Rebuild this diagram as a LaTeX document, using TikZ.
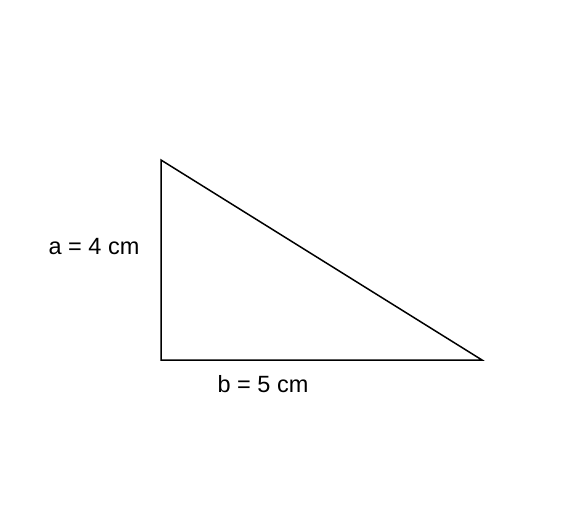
\documentclass[tikz,border=0pt]{standalone}
\usepackage{fontspec}
\setmainfont{Liberation Sans}
\begin{document}
\begin{tikzpicture}[x=1pt,y=-1pt,
  edge/.style={draw=black,line width=1.5pt,line join=miter},
  lbl/.style={font=\fontsize{23.5}{27}\selectfont,inner sep=0pt,anchor=center}]
\useasboundingbox[fill=white] (0,0) rectangle (573,527);
\coordinate (A) at (161,160);
\coordinate (C) at (161,360);
\coordinate (B) at (482,360);
\draw[edge] (A) -- (C) -- (B) -- cycle;
\node[lbl] (la) at (94,247) {a = 4 cm};
\node[lbl] (lb) at (263,384) {b = 5 cm};
\end{tikzpicture}
\end{document}
